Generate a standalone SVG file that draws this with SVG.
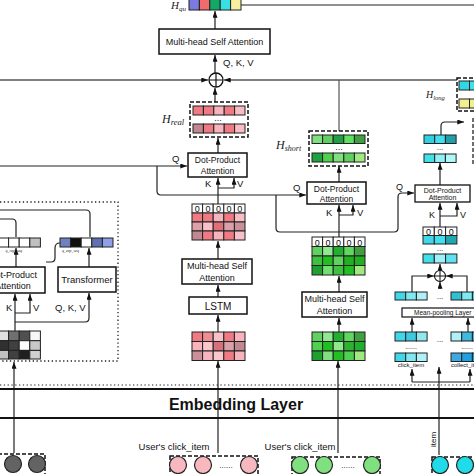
<svg xmlns="http://www.w3.org/2000/svg" width="474" height="474" viewBox="0 0 474 474">
<defs>
<marker id="a" viewBox="0 0 8 6" refX="8" refY="3" markerWidth="7" markerHeight="5" orient="auto" markerUnits="userSpaceOnUse"><path d="M0,0L8,3L0,6z" fill="#111"/></marker>
<style>
.t{font-family:"Liberation Sans",Arial,sans-serif;fill:#111}
.m{font-family:"Liberation Serif","DejaVu Serif",serif;font-style:italic;fill:#222}
.ln{fill:none;stroke:#222;stroke-width:1.2}
.ar{fill:none;stroke:#222;stroke-width:1.2;marker-end:url(#a)}
.box{fill:#fff;stroke:#111;stroke-width:1.5}
.c rect{stroke:#222;stroke-width:1}
.dash{fill:none;stroke:#111;stroke-width:1.5;stroke-dasharray:4 2}
.z{fill:#fff}
.zt{font-family:"Liberation Sans",Arial,sans-serif;font-size:9px;fill:#111;text-anchor:middle}
.circ{stroke:#222;stroke-width:1.2}
</style>
</defs>
<rect width="474" height="474" fill="#fff"/>

<g id="connectors">
<path class="ln" d="M241 5H474"/>
<path class="ar" d="M215 29V11"/>
<path class="ar" d="M215 73V55"/>
<path class="ar" d="M215 102V88"/>
<path class="ar" d="M0 80H208" style="stroke:#555;stroke-width:1.4"/>
<path class="ar" d="M457 80H224" style="stroke:#555;stroke-width:1.4"/>
<path class="ln" d="M339 131V80" style="stroke:#555"/>
<path class="ar" d="M218 153V138"/>
<path class="ar" d="M0 166H187"/>
<path class="ar" d="M157 166V191Q157 195 161 195H306"/>
<path class="ar" d="M276 195V228Q276 232 280 232H394Q398 232 398 228V197Q398 193 402 193H414"/>
<path class="ar" d="M218 204V178"/>
<path class="ar" d="M218 188H234V178"/>
<path class="ar" d="M218 259V241"/>
<path class="ar" d="M218 297V285"/>
<path class="ar" d="M218 332V315"/>
<path class="ar" d="M218 453V361"/>
<path class="ar" d="M339 182V166"/>
<path class="ar" d="M339 237V205"/>
<path class="ar" d="M339 215H353V205"/>
<path class="ar" d="M339 292V276"/>
<path class="ar" d="M339 332V318"/>
<path class="ar" d="M338 453V361"/>
<path class="ar" d="M440 185V163"/>
<path class="ar" d="M441 135V126Q441 122 445 122H464"/>
<path class="ar" d="M440 227V203"/>
<path class="ar" d="M440 216H457V203"/>
<path class="ar" d="M440 270V264"/>
<path class="ar" d="M412 292V276H434"/>
<path class="ar" d="M467 292V276H446"/>
<path class="ar" d="M440 289V282"/>
<path class="ar" d="M412 332V318"/>
<path class="ar" d="M468 332V318"/>
<path class="ln" d="M412 382H470"/>
<path class="ar" d="M412 382V369"/>
<path class="ar" d="M470 382V369"/>
<path class="ar" d="M439 455V367"/>
<path class="ar" d="M14 453V362"/>
<path class="ln" d="M0 210H86Q90 210 90 214V237"/>
<path class="ln" d="M0 219H12Q16 219 16 223V237"/>
<path class="ar" d="M16 267V248"/>
<path class="ar" d="M89 267V248"/>
<path class="ln" d="M60 243Q55 243 55 248V258Q55 262 51 262H46"/>
<path class="ar" d="M15 331V294"/>
<path class="ar" d="M15 313H30V294"/>
<path class="ar" d="M15 322H85Q89 322 89 318V293"/>
</g>

<g id="h_qu">
<text class="m" x="171" y="9" font-size="11">H<tspan font-size="7" dy="2">qu</tspan></text>
<g class="c">
<rect x="189" y="-1" width="10.4" height="11" fill="#7a7ae0"/>
<rect x="199.4" y="-1" width="10.4" height="11" fill="#f06b6b"/>
<rect x="209.8" y="-1" width="10.4" height="11" fill="#14a868"/>
<rect x="220.2" y="-1" width="10.4" height="11" fill="#38e0e4"/>
<rect x="230.6" y="-1" width="10.4" height="11" fill="#f6f0a0"/>
</g>
</g>

<g id="mhsa_top">
<rect class="box" x="159" y="29" width="111" height="25"/>
<text class="t" x="214.5" y="45" font-size="9" text-anchor="middle">Multi-head Self Attention</text>
<text class="t" x="223" y="66" font-size="9.5">Q, K, V</text>
</g>

<g id="plus_top">
<circle cx="216" cy="80" r="7" fill="#fff" stroke="#111" stroke-width="1.3"/>
<path d="M209 80H223M216 73V87" stroke="#111" stroke-width="1.2"/>
</g>

<g id="h_real">
<text class="m" x="162" y="123" font-size="12">H<tspan font-size="8.5" dy="2">real</tspan></text>
<rect class="dash" x="190" y="102" width="58" height="35"/>
<g class="c">
<rect x="193" y="106" width="10.4" height="9" fill="#f07a84"/>
<rect x="203.4" y="106" width="10.4" height="9" fill="#f07a84"/>
<rect x="213.8" y="106" width="10.4" height="9" fill="#f8b4bc"/>
<rect x="224.2" y="106" width="10.4" height="9" fill="#f07a84"/>
<rect x="234.6" y="106" width="10.4" height="9" fill="#f8bcc4"/>
<rect x="193" y="124" width="10.4" height="9" fill="#c08890"/>
<rect x="203.4" y="124" width="10.4" height="9" fill="#f07a84"/>
<rect x="213.8" y="124" width="10.4" height="9" fill="#f8b4bc"/>
<rect x="224.2" y="124" width="10.4" height="9" fill="#f07a84"/>
<rect x="234.6" y="124" width="10.4" height="9" fill="#f8bcc4"/>
</g>
<text class="t" x="218" y="121" font-size="9" text-anchor="middle">...</text>
</g>

<g id="dpa_left_mid">
<rect class="box" x="188" y="153" width="59" height="24"/>
<text class="t" x="217.5" y="163" font-size="8.5" text-anchor="middle">Dot-Product</text>
<text class="t" x="217.5" y="174" font-size="8.5" text-anchor="middle">Attention</text>
<text class="t" x="172" y="162" font-size="9.5">Q</text>
<text class="t" x="205" y="187" font-size="9.5">K</text>
<text class="t" x="237" y="187" font-size="9.5">V</text>
</g>

<g id="red_matrix">
<g class="c">
<rect class="z" x="192" y="204" width="10.6" height="9"/>
<rect class="z" x="202.6" y="204" width="10.6" height="9"/>
<rect class="z" x="213.2" y="204" width="10.6" height="9"/>
<rect class="z" x="223.8" y="204" width="10.6" height="9"/>
<rect class="z" x="234.4" y="204" width="10.6" height="9"/>
<rect x="192" y="213" width="10.6" height="9" fill="#f07a84"/>
<rect x="202.6" y="213" width="10.6" height="9" fill="#f07a84"/>
<rect x="213.2" y="213" width="10.6" height="9" fill="#f8b4bc"/>
<rect x="223.8" y="213" width="10.6" height="9" fill="#f07a84"/>
<rect x="234.4" y="213" width="10.6" height="9" fill="#f8bcc4"/>
<rect x="192" y="222" width="10.6" height="9" fill="#dca0a8"/>
<rect x="202.6" y="222" width="10.6" height="9" fill="#f8c0c8"/>
<rect x="213.2" y="222" width="10.6" height="9" fill="#e07078"/>
<rect x="223.8" y="222" width="10.6" height="9" fill="#d8a0a8"/>
<rect x="234.4" y="222" width="10.6" height="9" fill="#c89098"/>
<rect x="192" y="231" width="10.6" height="9" fill="#c08890"/>
<rect x="202.6" y="231" width="10.6" height="9" fill="#f07a84"/>
<rect x="213.2" y="231" width="10.6" height="9" fill="#f8b4bc"/>
<rect x="223.8" y="231" width="10.6" height="9" fill="#f07a84"/>
<rect x="234.4" y="231" width="10.6" height="9" fill="#f8c0c8"/>
</g>
<text class="zt" x="197.3" y="212">0</text><text class="zt" x="207.9" y="212">0</text><text class="zt" x="218.5" y="212">0</text><text class="zt" x="229.1" y="212">0</text><text class="zt" x="239.7" y="212">0</text>
</g>

<g id="mhsa_left">
<rect class="box" x="182" y="259" width="70" height="25"/>
<text class="t" x="217" y="269" font-size="9" text-anchor="middle">Multi-head Self</text>
<text class="t" x="217" y="280.5" font-size="9" text-anchor="middle">Attention</text>
</g>

<g id="lstm">
<rect class="box" x="189" y="297" width="58" height="17"/>
<text class="t" x="218" y="309.5" font-size="10" text-anchor="middle">LSTM</text>
</g>

<g id="red_input" class="c">
<rect x="192" y="332" width="10.6" height="9.5" fill="#f07a84"/>
<rect x="202.6" y="332" width="10.6" height="9.5" fill="#f08c94"/>
<rect x="213.2" y="332" width="10.6" height="9.5" fill="#f8c0c8"/>
<rect x="223.8" y="332" width="10.6" height="9.5" fill="#f07a84"/>
<rect x="234.4" y="332" width="10.6" height="9.5" fill="#f8b4bc"/>
<rect x="192" y="341.5" width="10.6" height="9.5" fill="#f8b4bc"/>
<rect x="202.6" y="341.5" width="10.6" height="9.5" fill="#f8c8cc"/>
<rect x="213.2" y="341.5" width="10.6" height="9.5" fill="#d8707c"/>
<rect x="223.8" y="341.5" width="10.6" height="9.5" fill="#d8a0a8"/>
<rect x="234.4" y="341.5" width="10.6" height="9.5" fill="#c08890"/>
<rect x="192" y="351" width="10.6" height="9.5" fill="#c89098"/>
<rect x="202.6" y="351" width="10.6" height="9.5" fill="#f8b4bc"/>
<rect x="213.2" y="351" width="10.6" height="9.5" fill="#f8c8cc"/>
<rect x="223.8" y="351" width="10.6" height="9.5" fill="#f07a84"/>
<rect x="234.4" y="351" width="10.6" height="9.5" fill="#f8b4bc"/>
</g>

<g id="h_short">
<text class="m" x="276" y="149" font-size="12">H<tspan font-size="8" dy="2">short</tspan></text>
<rect class="dash" x="309" y="131" width="59" height="35"/>
<g class="c">
<rect x="312" y="135" width="10.6" height="8.5" fill="#80e080"/>
<rect x="322.6" y="135" width="10.6" height="8.5" fill="#60d060"/>
<rect x="333.2" y="135" width="10.6" height="8.5" fill="#20a040"/>
<rect x="343.8" y="135" width="10.6" height="8.5" fill="#60e060"/>
<rect x="354.4" y="135" width="10.6" height="8.5" fill="#40a040"/>
<rect x="312" y="153" width="10.6" height="9" fill="#20a040"/>
<rect x="322.6" y="153" width="10.6" height="9" fill="#50d050"/>
<rect x="333.2" y="153" width="10.6" height="9" fill="#80e080"/>
<rect x="343.8" y="153" width="10.6" height="9" fill="#60d060"/>
<rect x="354.4" y="153" width="10.6" height="9" fill="#a0e880"/>
</g>
<text class="t" x="339" y="150" font-size="9" text-anchor="middle">...</text>
</g>

<g id="dpa_mid">
<rect class="box" x="307" y="182" width="59" height="22"/>
<text class="t" x="336.5" y="191.5" font-size="8.5" text-anchor="middle">Dot-Product</text>
<text class="t" x="336.5" y="201.5" font-size="8.5" text-anchor="middle">Attention</text>
<text class="t" x="293" y="191" font-size="9.5">Q</text>
<text class="t" x="326" y="216" font-size="9.5">K</text>
<text class="t" x="357" y="216" font-size="9.5">V</text>
</g>

<g id="green_matrix">
<g class="c">
<rect class="z" x="312" y="237" width="10.6" height="9.5"/>
<rect class="z" x="322.6" y="237" width="10.6" height="9.5"/>
<rect class="z" x="333.2" y="237" width="10.6" height="9.5"/>
<rect class="z" x="343.8" y="237" width="10.6" height="9.5"/>
<rect class="z" x="354.4" y="237" width="10.6" height="9.5"/>
<rect x="312" y="246.5" width="10.6" height="9.5" fill="#60d060"/>
<rect x="322.6" y="246.5" width="10.6" height="9.5" fill="#90e890"/>
<rect x="333.2" y="246.5" width="10.6" height="9.5" fill="#20b030"/>
<rect x="343.8" y="246.5" width="10.6" height="9.5" fill="#60d860"/>
<rect x="354.4" y="246.5" width="10.6" height="9.5" fill="#40a040"/>
<rect x="312" y="256" width="10.6" height="9.5" fill="#40c040"/>
<rect x="322.6" y="256" width="10.6" height="9.5" fill="#20c020"/>
<rect x="333.2" y="256" width="10.6" height="9.5" fill="#60d060"/>
<rect x="343.8" y="256" width="10.6" height="9.5" fill="#20b020"/>
<rect x="354.4" y="256" width="10.6" height="9.5" fill="#20b020"/>
<rect x="312" y="265.5" width="10.6" height="9.5" fill="#20a030"/>
<rect x="322.6" y="265.5" width="10.6" height="9.5" fill="#70e070"/>
<rect x="333.2" y="265.5" width="10.6" height="9.5" fill="#40c040"/>
<rect x="343.8" y="265.5" width="10.6" height="9.5" fill="#20c020"/>
<rect x="354.4" y="265.5" width="10.6" height="9.5" fill="#a0e880"/>
</g>
<text class="zt" x="317.3" y="245.5">0</text><text class="zt" x="327.9" y="245.5">0</text><text class="zt" x="338.5" y="245.5">0</text><text class="zt" x="349.1" y="245.5">0</text><text class="zt" x="359.7" y="245.5">0</text>
</g>

<g id="mhsa_mid">
<rect class="box" x="302" y="292" width="65" height="25"/>
<text class="t" x="334.5" y="302" font-size="9" text-anchor="middle">Multi-head Self</text>
<text class="t" x="334.5" y="313.5" font-size="9" text-anchor="middle">Attention</text>
</g>

<g id="green_input" class="c">
<rect x="312" y="332" width="10.6" height="9.5" fill="#60d060"/>
<rect x="322.6" y="332" width="10.6" height="9.5" fill="#90e890"/>
<rect x="333.2" y="332" width="10.6" height="9.5" fill="#20b030"/>
<rect x="343.8" y="332" width="10.6" height="9.5" fill="#60d860"/>
<rect x="354.4" y="332" width="10.6" height="9.5" fill="#40a040"/>
<rect x="312" y="341.5" width="10.6" height="9.5" fill="#50d050"/>
<rect x="322.6" y="341.5" width="10.6" height="9.5" fill="#20c020"/>
<rect x="333.2" y="341.5" width="10.6" height="9.5" fill="#90e890"/>
<rect x="343.8" y="341.5" width="10.6" height="9.5" fill="#30b030"/>
<rect x="354.4" y="341.5" width="10.6" height="9.5" fill="#20b030"/>
<rect x="312" y="351" width="10.6" height="9.5" fill="#20a030"/>
<rect x="322.6" y="351" width="10.6" height="9.5" fill="#80e080"/>
<rect x="333.2" y="351" width="10.6" height="9.5" fill="#20c020"/>
<rect x="343.8" y="351" width="10.6" height="9.5" fill="#50d050"/>
<rect x="354.4" y="351" width="10.6" height="9.5" fill="#a0e880"/>
</g>

<g id="h_long">
<text class="m" x="426" y="98" font-size="10">H<tspan font-size="6.5" dy="2">long</tspan></text>
<rect class="dash" x="457" y="78" width="25" height="33"/>
<g class="c">
<rect x="459" y="81" width="10.5" height="9" fill="#30d8e4"/>
<rect x="469.5" y="81" width="10.5" height="9" fill="#40e0e8"/>
<rect x="459" y="99" width="10.5" height="9" fill="#f0f090"/>
<rect x="469.5" y="99" width="10.5" height="9" fill="#f0f090"/>
</g>
</g>

<g id="right_top_bars">
<g class="c">
<rect x="424" y="135" width="10.7" height="8.5" fill="#30d0e0"/>
<rect x="434.7" y="135" width="10.7" height="8.5" fill="#40e0f0"/>
<rect x="445.4" y="135" width="10.7" height="8.5" fill="#20a0a8"/>
<rect x="424" y="154" width="10.7" height="8.5" fill="#40e0e8"/>
<rect x="434.7" y="154" width="10.7" height="8.5" fill="#90f0f8"/>
<rect x="445.4" y="154" width="10.7" height="8.5" fill="#b0f8f8"/>
</g>
<text class="t" x="440" y="150" font-size="8" text-anchor="middle">...</text>
<path class="dash" d="M473 118V166" style="stroke-width:1.2"/>
</g>

<g id="dpa_right">
<rect class="box" x="415" y="185" width="55" height="17" style="stroke-width:1.3"/>
<text class="t" x="442.5" y="192.5" font-size="7" text-anchor="middle">Dot-Product</text>
<text class="t" x="442.5" y="200" font-size="7" text-anchor="middle">Attention</text>
<text class="t" x="396" y="190" font-size="9">Q</text>
<text class="t" x="429" y="218" font-size="9">K</text>
<text class="t" x="460" y="218" font-size="9">V</text>
</g>

<g id="cyan_matrix">
<g class="c">
<rect class="z" x="423" y="227" width="11.3" height="8.5"/>
<rect class="z" x="434.3" y="227" width="11.3" height="8.5"/>
<rect class="z" x="445.6" y="227" width="11.3" height="8.5"/>
<rect x="423" y="235.5" width="11.3" height="8.5" fill="#40d8e8"/>
<rect x="434.3" y="235.5" width="11.3" height="8.5" fill="#40e0f0"/>
<rect x="445.6" y="235.5" width="11.3" height="8.5" fill="#20a8b0"/>
<rect x="423" y="254" width="11.3" height="9" fill="#40e0e8"/>
<rect x="434.3" y="254" width="11.3" height="9" fill="#a0f0f8"/>
<rect x="445.6" y="254" width="11.3" height="9" fill="#60e0f0"/>
</g>
<text class="zt" x="428.6" y="234.5" font-size="8.5">0</text><text class="zt" x="439.9" y="234.5" font-size="8.5">0</text><text class="zt" x="451.2" y="234.5" font-size="8.5">0</text>
<text class="t" x="440" y="251" font-size="8" text-anchor="middle">...</text>
</g>

<g id="plus_right">
<circle cx="440" cy="276" r="5.5" fill="#fff" stroke="#111" stroke-width="1.1"/>
<path d="M434.5 276H445.5M440 270.5V281.5" stroke="#111" stroke-width="1"/>
</g>

<g id="right_pool_bars">
<g class="c">
<rect x="395" y="292" width="10.7" height="8" fill="#40d8e8"/>
<rect x="405.7" y="292" width="10.7" height="8" fill="#80e8f0"/>
<rect x="416.4" y="292" width="10.7" height="8" fill="#b0f0f8"/>
<rect x="451" y="292" width="10.7" height="8" fill="#30c0d0"/>
<rect x="461.7" y="292" width="10.7" height="8" fill="#80e8f0"/>
<rect x="472.4" y="292" width="10.7" height="8" fill="#40d8e8"/>
</g>
<text class="t" x="440" y="299" font-size="8" text-anchor="middle">...</text>
</g>

<g id="mean_pooling">
<rect class="box" x="402" y="308" width="80" height="9" style="stroke-width:1.2"/>
<text class="t" x="414" y="315" font-size="6.5">Mean-pooling Layer</text>
</g>

<g id="right_input_bars">
<g class="c">
<rect x="395" y="332" width="10.7" height="9" fill="#40d8e8"/>
<rect x="405.7" y="332" width="10.7" height="9" fill="#40c8e0"/>
<rect x="416.4" y="332" width="10.7" height="9" fill="#90e8f0"/>
<rect x="395" y="353" width="10.7" height="8.5" fill="#40d8e8"/>
<rect x="405.7" y="353" width="10.7" height="8.5" fill="#80e8f0"/>
<rect x="416.4" y="353" width="10.7" height="8.5" fill="#b0f0f8"/>
<rect x="451" y="332" width="10.7" height="9" fill="#b0f0f8"/>
<rect x="461.7" y="332" width="10.7" height="9" fill="#40b8e0"/>
<rect x="472.4" y="332" width="10.7" height="9" fill="#40b8e0"/>
<rect x="451" y="353" width="10.7" height="8.5" fill="#40a8e0"/>
<rect x="461.7" y="353" width="10.7" height="8.5" fill="#20a0e0"/>
<rect x="472.4" y="353" width="10.7" height="8.5" fill="#20a0e0"/>
</g>
<text class="t" x="411" y="349" font-size="7" text-anchor="middle">......</text>
<text class="t" x="467" y="349" font-size="7" text-anchor="middle">......</text>
<text class="t" x="440" y="342" font-size="8" text-anchor="middle">...</text>
<text class="t" x="411" y="367" font-size="6" text-anchor="middle">click_item</text>
<text class="t" x="451" y="367" font-size="6">collect_item</text>
</g>

<g id="seq_box">
<path d="M0 202H118V361H0" fill="none" stroke="#222" stroke-width="1.3" stroke-dasharray="1.3 2.5"/>
<g class="c">
<rect x="-2" y="238" width="10.6" height="9" fill="#fff"/>
<rect x="8.6" y="238" width="10.6" height="9" fill="#fff"/>
<rect x="19.2" y="238" width="10.6" height="9" fill="#fff"/>
<rect x="29.8" y="238" width="10.6" height="9" fill="#c0c0c0"/>
<rect x="60" y="238" width="10.6" height="9" fill="#7080c0"/>
<rect x="70.6" y="238" width="10.6" height="9" fill="#101010"/>
<rect x="81.2" y="238" width="10.6" height="9" fill="#ffffff"/>
<rect x="91.8" y="238" width="10.6" height="9" fill="#6070b0"/>
<rect x="102.4" y="238" width="10.6" height="9" fill="#90a0e8"/>
</g>
<text class="m" x="22" y="252" font-size="4" text-anchor="end">q_rep_seq</text>
<text class="m" x="62" y="252" font-size="4">q_exp_seq</text>
</g>

<g id="dpa_left">
<rect class="box" x="-20" y="267" width="65" height="26"/>
<text class="t" x="13" y="278" font-size="9" text-anchor="middle">Dot-Product</text>
<text class="t" x="13" y="289" font-size="9" text-anchor="middle">Attention</text>
<text class="t" x="6" y="311" font-size="9.5">K</text>
<text class="t" x="33" y="311" font-size="9.5">V</text>
</g>

<g id="transformer">
<rect class="box" x="58" y="267" width="58" height="25"/>
<text class="t" x="87" y="283" font-size="9.5" text-anchor="middle">Transformer</text>
<text class="t" x="55" y="311" font-size="9.5">Q, K, V</text>
</g>

<g id="gray_matrix" class="c">
<rect x="-2" y="331" width="10.6" height="9.7" fill="#e0e0e0"/>
<rect x="8.6" y="331" width="10.6" height="9.7" fill="#707070"/>
<rect x="19.2" y="331" width="10.6" height="9.7" fill="#505050"/>
<rect x="29.8" y="331" width="10.6" height="9.7" fill="#f8f8f8"/>
<rect x="-2" y="340.7" width="10.6" height="9.7" fill="#303030"/>
<rect x="8.6" y="340.7" width="10.6" height="9.7" fill="#404040"/>
<rect x="19.2" y="340.7" width="10.6" height="9.7" fill="#ffffff"/>
<rect x="29.8" y="340.7" width="10.6" height="9.7" fill="#c8c8c8"/>
<rect x="-2" y="350.4" width="10.6" height="8.6" fill="#c0c0c0"/>
<rect x="8.6" y="350.4" width="10.6" height="8.6" fill="#404040"/>
<rect x="19.2" y="350.4" width="10.6" height="8.6" fill="#202020"/>
<rect x="29.8" y="350.4" width="10.6" height="8.6" fill="#d0d0d0"/>
</g>

<g id="embedding_layer">
<path d="M0 385H474" stroke="#222" stroke-width="1.2" stroke-dasharray="1.3 2.5"/>
<path d="M0 389H474M0 418H474" stroke="#111" stroke-width="2"/>
<text class="t" x="236" y="410" font-size="16" font-weight="bold" text-anchor="middle">Embedding Layer</text>
</g>

<g id="inputs">
<text class="t" x="174" y="450" font-size="9.5" text-anchor="middle">User's click_item</text>
<text class="t" x="300" y="450" font-size="9.5" text-anchor="middle">User's click_item</text>
<text class="t" transform="translate(436 447) rotate(-90)" font-size="8">item</text>
<rect class="dash" x="-2" y="454" width="47" height="24"/>
<circle class="circ" cx="13" cy="464" r="8.5" fill="#636363"/>
<circle class="circ" cx="37" cy="464" r="8.5" fill="#636363"/>
<rect class="dash" x="170" y="456" width="88" height="22"/>
<circle class="circ" cx="178" cy="465" r="8.5" fill="#f8b8c0"/>
<circle class="circ" cx="203" cy="465" r="8.5" fill="#f8b8c0"/>
<text class="t" x="226" y="468" font-size="8" text-anchor="middle">......</text>
<circle class="circ" cx="249" cy="465" r="8.5" fill="#f8b8c0"/>
<rect class="dash" x="292" y="457" width="88" height="21"/>
<circle class="circ" cx="300" cy="465" r="8.5" fill="#80e080"/>
<circle class="circ" cx="324" cy="465" r="8.5" fill="#80e080"/>
<text class="t" x="348" y="468" font-size="8" text-anchor="middle">......</text>
<circle class="circ" cx="372" cy="465" r="8.5" fill="#80e080"/>
<rect class="dash" x="432" y="457" width="50" height="21"/>
<circle class="circ" cx="440" cy="465" r="8.5" fill="#20dce8"/>
<circle class="circ" cx="465" cy="465" r="8.5" fill="#20dce8"/>
</g>
</svg>
